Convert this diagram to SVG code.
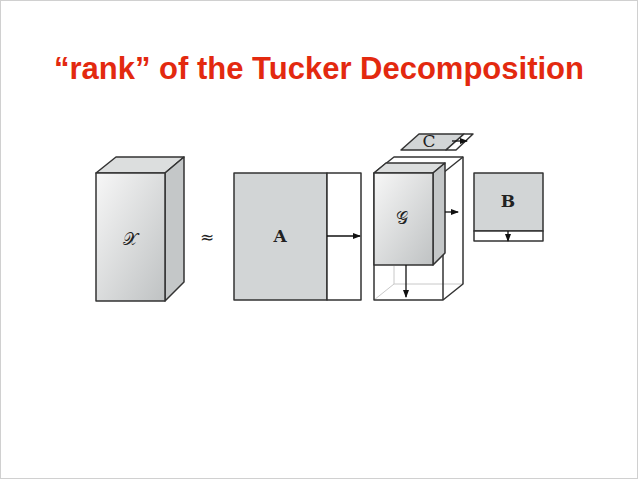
<svg xmlns="http://www.w3.org/2000/svg" width="638" height="479" viewBox="0 0 638 479">
<defs>
<linearGradient id="gf" x1="0" y1="0" x2="1" y2="1"><stop offset="0" stop-color="#f7f7f7"/><stop offset="1" stop-color="#bfc2c3"/></linearGradient>
<marker id="ah" markerWidth="8" markerHeight="6" refX="7" refY="3" orient="auto" markerUnits="userSpaceOnUse"><path d="M0,0 L8,3 L0,6 Z" fill="#111"/></marker>
</defs>
<style>
.s{stroke:#333;stroke-width:1.5;stroke-linejoin:round}
.g{fill:#d2d5d6}
.side{fill:#c4c7c8}
.top{fill:#dcdede}
.w{fill:#fff}
.lbl{font-family:"DejaVu Serif","Liberation Serif",serif;font-size:17px;fill:#222;text-anchor:middle}
.ar{stroke:#111;stroke-width:1.3;fill:none;marker-end:url(#ah)}
</style>
<rect x="0.5" y="0.5" width="637" height="478" fill="#fff" stroke="#d0d0d0"/>
<text x="319" y="79" font-family="'Liberation Sans',Arial,sans-serif" font-weight="bold" font-size="31" fill="#e3290f" text-anchor="middle">“rank” of the Tucker Decomposition</text>
<g id="X">
<polygon class="s top" points="96,173 116,157 184,157 165,173"/>
<polygon class="s side" points="165,173 184,157 184,282 165,301"/>
<rect class="s" x="96" y="173" width="69" height="128" fill="url(#gf)"/>
<text class="lbl" x="130" y="245">𝒳</text>
</g>
<text id="approx" class="lbl" x="207" y="243" font-size="24">≈</text>
<g id="A">
<rect class="s g" x="234" y="173" width="93" height="127"/>
<rect class="s w" x="327" y="173" width="34" height="127"/>
<text class="lbl" x="280" y="242" font-weight="bold" font-size="15">A</text>
</g>
<g id="G">
<polyline points="394,266 394,284 463,284" fill="none" stroke="#c8c8c8" stroke-width="1"/>
<line x1="394" y1="284" x2="374" y2="300" stroke="#c8c8c8" stroke-width="1"/>
<polygon class="s" points="374,173 394,157 463,157 463,284 443,300 374,300" fill="none"/>
<line class="s" x1="443" y1="173" x2="463" y2="157"/>
<line class="s" x1="443" y1="173" x2="443" y2="300"/>
<line class="s" x1="374" y1="173" x2="443" y2="173"/>
<polygon class="s top" points="374,173 386,163 445,163 433,173"/>
<polygon class="s side" points="433,173 445,163 445,253 433,265"/>
<rect class="s" x="374" y="173" width="59" height="92" fill="url(#gf)"/>
<text class="lbl" x="402" y="224">𝒢</text>
</g>
<g id="C">
<polygon class="s g" points="401,150 419,134 464,134 446,150"/>
<polygon class="s w" points="446,150 464,134 473,134 456,150"/>
<text class="lbl" x="429" y="147" font-size="13">C</text>
</g>
<g id="B">
<rect class="s g" x="474" y="173" width="69" height="58"/>
<rect class="s w" x="474" y="231" width="69" height="10"/>
<text class="lbl" x="508" y="207" font-weight="bold" font-size="13">B</text>
</g>
<g id="connectors">
<line class="ar" x1="327" y1="236" x2="360" y2="236"/>
<line class="ar" x1="445" y1="212" x2="458" y2="212"/>
<line class="ar" x1="406" y1="265" x2="406" y2="297"/>
<line class="ar" x1="452" y1="141" x2="467" y2="141"/>
<line class="ar" x1="508" y1="231" x2="508" y2="241"/>
</g>
</svg>
